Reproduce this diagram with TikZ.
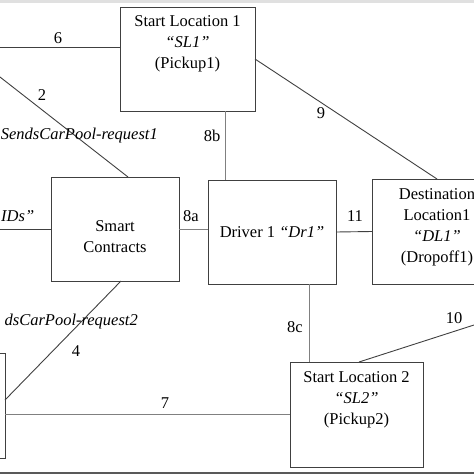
\documentclass[tikz,border=0pt]{standalone}
\usepackage{fontspec}
\setmainfont{Liberation Serif}
\begin{document}
\begin{tikzpicture}[x=1pt,y=-1pt,
  box/.style={draw=black!75,line width=1pt,inner sep=0pt,outer sep=0pt},
  txt/.style={align=center,inner sep=0pt,font=\fontsize{16.5}{21}\selectfont},
  lab/.style={inner sep=0pt,font=\fontsize{16.5}{21}\selectfont},
  ilab/.style={inner sep=0pt,font=\fontsize{16.5}{21}\selectfont\itshape},
  dline/.style={draw=black!75,line width=0.9pt},
  lline/.style={draw=black!50,line width=0.9pt}]
\useasboundingbox (0,0) rectangle (474,474);
\fill[black!12] (0,0) rectangle (474,3);
\fill[black!65] (0,471.5) rectangle (474,474);
% boxes
\node[box,minimum width=135pt,minimum height=104pt] (SL1) at (187.5,59) {};
\node[box,minimum width=128pt,minimum height=104pt] (SC) at (115,229) {};
\node[box,minimum width=128pt,minimum height=104pt] (DR) at (272,232) {};
\node[box,minimum width=130pt,minimum height=105pt] (DL) at (437,231.5) {};
\node[box,minimum width=133pt,minimum height=105pt] (SL2) at (356.5,414.5) {};
\node[box,minimum width=130pt,minimum height=105pt] (LB) at (-60,405.5) {};
% box texts
\node[txt] (tSL1) at (187.5,44) {Start Location 1\\\textit{“SL1”}\\(Pickup1)};
\node[txt] (tSC) at (115,236.5) {Smart\\Contracts};
\node[txt] (tDR) at (272,232) {Driver 1 \textit{“Dr1”}};
\node[txt] (tDL) at (437,227.5) {Destination\\Location1\\\textit{“DL1”}\\(Dropoff1)};
\node[txt] (tSL2) at (356.5,399.5) {Start Location 2\\\textit{“SL2”}\\(Pickup2)};
% free ends
\coordinate (c6) at (-10,47);
\coordinate (c2) at (-10,69.2);
\coordinate (cID) at (-10,229);
\coordinate (c10) at (474,325);
% connectors
\draw[dline] (c6) -- (c6 -| SL1.west);
\draw[dline] (c2) -- ([xshift=13pt]SC.north);
\draw[dline] (cID) -- (SC.west);
\draw[lline] (SC.east) -- (SC.east -| DR.west);
\draw[lline] ([xshift=37.5pt]SL1.south) -- ([xshift=37.5pt]SL1.south |- DR.north);
\draw[dline] (SL1.east) -- (DL.north);
\draw[dline] (DR.east) -- (DL.west);
\draw[lline] ([xshift=37pt]DR.south) -- ([xshift=37pt]DR.south |- SL2.north);
\draw[dline] ([xshift=2.5pt]SL2.north) -- (c10);
\draw[dline] ([xshift=6pt]SC.south) -- ([yshift=5.5pt]LB.east);
\draw[lline] (LB.east |- SL2.west) -- (SL2.west);
% labels
\node[lab] (l6) at (58,38) {6};
\node[lab] (l2) at (42,95) {2};
\node[ilab,anchor=east] (r1) at (158,136) {SendsCarPool-request1};
\node[ilab,anchor=west] (ids) at (1,216) {IDs”};
\node[lab] (l8a) at (191,216) {8a};
\node[lab] (l8b) at (212,136) {8b};
\node[lab] (l9) at (321,113) {9};
\node[lab] (l11) at (355,216) {11};
\node[lab] (l8c) at (295,327) {8c};
\node[lab] (l10) at (454,318) {10};
\node[ilab,anchor=east] (r2) at (138,322) {dsCarPool-request2};
\node[lab] (l4) at (76,351) {4};
\node[lab] (l7) at (165,403) {7};
\end{tikzpicture}
\end{document}
